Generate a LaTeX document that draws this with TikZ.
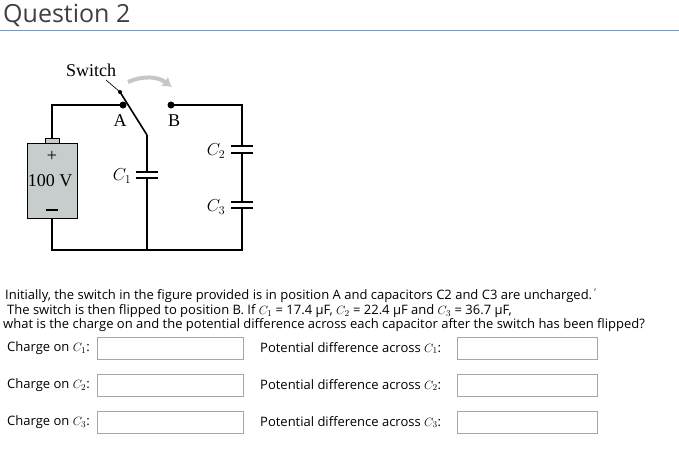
\documentclass[tikz,border=0pt]{standalone}
\usetikzlibrary{arrows.meta}
\usepackage{fontspec}
\setmainfont{Open Sans}
\newfontfamily\circfont{Liberation Serif}
\begin{document}
\begin{tikzpicture}[x=1pt,y=-1pt,
  wire/.style={line width=2pt},
  plate/.style={line width=2.2pt},
  ctext/.style={font=\circfont\fontsize{18}{20}\selectfont},
  qtext/.style={font=\fontsize{13}{15}\selectfont,anchor=west,inner sep=0pt},
  field/.style={draw=gray!70,line width=0.8pt,minimum width=146pt,minimum height=22pt,inner sep=0pt,anchor=west}]
\useasboundingbox (0,0) rectangle (679,453);
\node[anchor=west,inner sep=0pt,text=black!75,font=\fontsize{25}{28}\selectfont] (title) at (3,15) {Question 2};
\draw[color=cyan!50!blue!60,line width=0.8pt] (0,30) -- (679,30);
% circuit coordinates
\coordinate (tl) at (52,105);
\coordinate (A) at (123,105);
\coordinate (B) at (171,105);
\coordinate (tr) at (242,105);
\coordinate (bl) at (52,250);
\coordinate (bm) at (147,250);
\coordinate (br) at (242,250);
\coordinate (piv) at (147,135);
\coordinate (tip) at (120,92);
% battery
\draw[fill=gray!25!teal!12!gray!40, draw=black, line width=0.8pt] (45,138) rectangle (59,143);
\node[draw=black,line width=0.8pt,fill=gray!25!teal!12!gray!40,minimum width=50pt,minimum height=75pt,inner sep=0pt] (bat) at (52,180.5) {};
\node[ctext] (plus) at (52,156) {+};
\node[ctext] (volt) at (50,181) {100 V};
\draw[line width=2pt] (46,210) -- (58,210);
\draw[wire] (52,138) -- (tl) -- (A);
\draw[wire] (B) -- (tr) -- (242,146);
\draw[wire] (242,153) -- (242,202);
\draw[wire] (242,208) -- (br) -- (bl) -- (bat.south);
\draw[wire] (bm) -- (147,178);
\draw[wire] (147,172) -- (piv);
\draw[line width=1.6pt] (piv) -- (tip);
\fill (A) circle (3.5pt);
\fill (B) circle (3.5pt);
\fill (tip) circle (2pt);
% capacitor plates
\draw[plate] (136,172) -- (158,172) (136,178) -- (158,178);
\draw[plate] (231,146) -- (253,146) (231,153) -- (253,153);
\draw[plate] (231,202) -- (253,202) (231,208) -- (253,208);
\node[ctext] (la) at (120,121) {A};
\node[ctext] (lb) at (174,121) {B};
\node[ctext] (c1) at (122,176) {$C_1$};
\node[ctext] (c2) at (216,151) {$C_2$};
\node[ctext] (c3) at (216,207) {$C_3$};
\node[ctext] (sw) at (91,70) {Switch};
\draw[line width=0.7pt] (106,80) -- (tip);
\draw[line width=4pt,gray!45,-{Latex[length=9pt,width=12pt]}] (128,82) to[bend left=30] (172,87);
% question text
\node[qtext] (t1) at (5,296) {Initially, the switch in the figure provided is in position A and capacitors C2 and C3 are uncharged.\,\textsuperscript{'}};
\node[qtext] (t2) at (7,311) {The switch is then flipped to position B. If $C_1$ = 17.4 μF, $C_2$ = 22.4 μF and $C_3$ = 36.7 μF,};
\node[qtext] (t3) at (3,325) {what is the charge on and the potential difference across each capacitor after the switch has been flipped?};
\foreach \i/\y in {1/348,2/385,3/422}{
  \node[qtext] (q\i) at (7,\y) {Charge on $C_\i$:};
  \node[field] (f\i) at (97,\y) {};
  \node[qtext] (p\i) at (260,\y) {Potential difference across $C_\i$:};
  \node[field,minimum width=140pt] (g\i) at (457,\y) {};
}
\end{tikzpicture}
\end{document}
